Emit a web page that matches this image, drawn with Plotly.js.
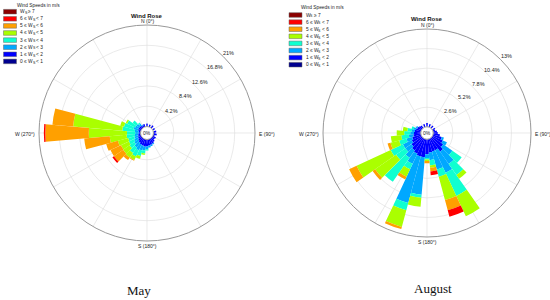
<!DOCTYPE html>
<html><head><meta charset="utf-8">
<script src="https://cdn.plot.ly/plotly-3.0.1.min.js"></script>
<style>html,body{margin:0;padding:0;background:#fff}#chart{width:550px;height:300px}</style>
</head><body><div id="chart"></div>
<script>
// Wind direction bins (degrees, clockwise from North)
const directions = [0,10,20,30,40,50,60,70,80,90,100,110,120,130,140,150,160,170,180,190,200,210,220,230,240,250,260,270,280,290,300,310,320,330,340,350];

// Speed class labels, split as [before subscript, subscript, after subscript]
const speedLabelParts = [
  ['0 \u2264 W','S','< 1'],
  ['1 \u2264 W','S','< 2'],
  ['2 \u2264 W','S','< 3'],
  ['3 \u2264 W','S','< 4'],
  ['4 \u2264 W','S','< 5'],
  ['5 \u2264 W','S','< 6'],
  ['6 \u2264 W','S','< 7'],
  ['W','S','\u2265 7']
];

const radialTicksMay = [4.2, 8.4, 12.6, 16.8, 21];
const radialTicksAug = [2.6, 5.2, 7.8, 10.4, 13];
const compassAngles = [0, 90, 180, 270];
const compassLabels = ['N (0\u00b0)','E (90\u00b0)','S (180\u00b0)','W (270\u00b0)'];
const panelLabels = ['May','August'];

// May: frequency (%) per direction for each speed class
const may_0_1 = [0,0,0,0,0,0,0,0,0,0,0,0,0,0,0,0,0,0,0,0,0,0,0,0,0,0,0,0,0,0,0,0,0,0,0,0];
const may_1_2 = [0.6,0,0.5,0,0.6,0,0.5,0,0.6,0.4,0.7,0.3,0.7,0.6,0.9,1.1,1.2,1.3,1.4,1.5,1.4,1.3,1.1,0.9,0.7,0.6,0.5,0.4,0.4,0.6,0.6,0.6,0.5,0.4,0.6,0];
const may_2_3 = [0,0,0,0,0,0,0,0,0,0,0,0,0,0,0,0.2,0.3,0.4,0.6,0.8,1.0,1.3,1.2,1.0,0.9,0.8,0.7,0.7,0.8,1.0,0.8,0.7,0.5,0.2,0,0];
const may_3_4 = [0,0,0,0,0,0,0,0,0,0,0,0,0,0,0,0,0,0,0.3,0.6,1.2,1.4,1.4,1.2,1.2,1.3,1.7,1.7,2.6,2.0,1.8,1.0,0.3,0,0,0];
const may_4_5 = [0,0,0,0,0,0,0,0,0,0,0,0,0,0,0,0,0,0,0,0.3,0.6,0.8,1.2,1.6,1.8,2.2,3.5,7.9,10.2,0.8,0.3,0,0,0,0,0];
const may_5_6 = [0,0,0,0,0,0,0,0,0,0,0,0,0,0,0,0,0,0,0,0,0,0.2,0.6,2.3,2.4,2.5,5.3,9.0,4.3,0,0,0,0,0,0,0];
const may_6_7 = [0,0,0,0,0,0,0,0,0,0,0,0,0,0,0,0,0,0,0,0,0,0,0,0.4,0,0,0,0.3,0,0,0,0,0,0,0,0];
const may_ge7 = [0,0,0,0,0,0,0,0,0,0,0,0,0,0,0,0,0,0,0,0,0,0,0,0,0,0,0,0,0,0,0,0,0,0,0,0];

// August
const aug_0_1 = [0,0,0,0,0,0,0,0,0,0,0,0,0,0,0,0,0,0,0,0,0,0,0,0,0,0,0,0,0,0,0,0,0,0,0,0];
const aug_1_2 = [0.5,0,0.4,0,0.4,0,0.4,0.3,0.5,0.6,0.9,1.2,1.5,1.8,2.2,1.7,1.7,1.8,2.0,2.4,2.4,2.2,2.0,1.7,1.4,1.2,1.0,0.9,0.8,0.7,0.6,0.5,0.4,0,0.4,0];
const aug_2_3 = [0,0,0,0,0,0,0,0,0,0,0,0.3,0.6,1.5,2.0,3.3,2.5,1.0,0.5,5.0,6.4,1.5,1.2,1.0,1.3,0.8,0.6,0.5,0.4,0.3,0.2,0,0,0,0,0];
const aug_3_4 = [0,0,0,0,0,0,0,0,0,0,0,0,0,1.5,1.8,3.4,1.0,0.7,0.2,0.4,1.0,0.8,3.9,1.5,1.8,1.0,1.0,0.8,0.6,0.3,0,0,0,0,0,0];
const aug_4_5 = [0,0,0,0,0,0,0,0,0,0,0,0,0,0,0.6,3.0,3.2,0.3,0.2,1.2,2.3,1.1,0,3.4,5.0,1.2,1.4,1.0,0.6,0,0,0,0,0,0,0];
const aug_5_6 = [0,0,0,0,0,0,0,0,0,0,0,0,0,0,0,0,1.4,0.5,0.3,0,0.3,0.4,0,0.4,1.1,0.4,0,0,0,0,0,0,0,0,0,0];
const aug_6_7 = [0,0,0,0,0,0,0,0,0,0,0,0,0,0,0,0,0.9,0.5,0,0,0,0,0,0,0,0,0,0,0,0,0,0,0,0,0,0];
const aug_ge7 = [0,0,0,0,0,0,0,0,0,0,0,0,0,0,0,0,0,0,0,0,0,0,0,0,0,0,0,0,0,0,0,0,0,0,0,0];

const speedColors = ['#00008F','#0000FF','#00A8FF','#10FFD0','#AAFF00','#FFA000','#FF0000','#8B0000'];

const maySeries = [may_0_1,may_1_2,may_2_3,may_3_4,may_4_5,may_5_6,may_6_7,may_ge7];
const augSeries = [aug_0_1,aug_1_2,aug_2_3,aug_3_4,aug_4_5,aug_5_6,aug_6_7,aug_ge7];

const W = 550, H = 300;
const px = x => x / W;
const py = y => 1 - y / H;
const FONT = 'Liberation Sans, Arial, sans-serif';

// text width measurement for composing subscripts
const ctx = document.createElement('canvas').getContext('2d');
function textWidth(s, size) { ctx.font = size + 'px "Liberation Sans", Arial, sans-serif'; return ctx.measureText(s).width; }

const traces = [];
function addRose(series, subplot) {
  series.forEach((vals, i) => {
    traces.push({
      type: 'barpolar', r: vals, theta: directions, subplot: subplot,
      marker: {color: speedColors[i], line: {width: 0}},
      hoverinfo: 'skip', showlegend: false
    });
  });
}
addRose(maySeries, 'polar');
addRose(augSeries, 'polar2');

// panel geometry (pixels)
const panels = [
  {cx: 147, cy: 133, R: 108, ticks: radialTicksMay, key: 'polar', title: {x:147, y:16}, legend: {bx: 3.5, ty: 5, tx: 38, y0: 11.7}, label: {x:139, y:290}},
  {cx: 427, cy: 133, R: 104, ticks: radialTicksAug, key: 'polar2', title: {x:427, y:19}, legend: {bx: 289, ty: 8, tx: 322, y0: 15}, label: {x:433, y:288}}
];
const HOLE = 0.06;

const layout = {
  width: W, height: H, margin: {l:0, r:0, t:0, b:0},
  paper_bgcolor: '#fff', plot_bgcolor: '#fff', showlegend: false,
  font: {family: FONT, size: 5, color: '#222'},
  annotations: [], shapes: []
};

function ann(x, y, text, font, xa, ya) {
  layout.annotations.push({xref:'paper', yref:'paper', x: px(x), y: py(y), text: text, showarrow:false,
    font: Object.assign({family: FONT}, font), xanchor: xa || 'center', yanchor: ya || 'middle'});
}

panels.forEach((p, k) => {
  const tmax = p.ticks[p.ticks.length - 1];
  layout[p.key] = {
    domain: {x: [px(p.cx - p.R), px(p.cx + p.R)], y: [py(p.cy + p.R), py(p.cy - p.R)]},
    hole: HOLE, bgcolor: '#fff', barmode: 'stack', bargap: 0,
    angularaxis: {
      rotation: 90, direction: 'clockwise', dtick: 30, showticklabels: false,
      showline: true, linecolor: '#999', linewidth: 1,
      gridcolor: '#dcdcdc', gridwidth: 0.6, ticks: ''
    },
    radialaxis: {
      range: [0, tmax], tickmode: 'array', tickvals: p.ticks, showticklabels: false,
      angle: 45, showline: false, ticks: '', gridcolor: '#dcdcdc', gridwidth: 0.6
    }
  };
  const small = {size: 5, color: '#222'};
  // compass labels
  compassAngles.forEach((a, i) => {
    if (a === 0) ann(p.cx, p.cy - p.R - 4, compassLabels[i], small);
    else if (a === 90) ann(p.cx + p.R + 2, p.cy + 1, compassLabels[i], small, 'left');
    else if (a === 180) ann(p.cx, p.cy + p.R + 5, compassLabels[i], small);
    else ann(p.cx - p.R - 2, p.cy + 1, compassLabels[i], small, 'right');
  });
  // radial ring labels along the 45 degree line
  const r0 = HOLE * p.R;
  p.ticks.forEach(t => {
    const d = r0 + (p.R - r0) * t / tmax + 5;
    ann(p.cx + d * Math.SQRT1_2 + 2, p.cy - d * Math.SQRT1_2, t + '%', {size: 5.5, color: '#222'});
  });
  // titles
  ann(p.title.x, p.title.y, '<b>Wind Rose</b>', {size: 6, color: '#111'});
  ann(p.cx, p.cy, '0%', {size: 5, color: '#222'});
  ann(p.label.x, p.label.y, panelLabels[k], {size: 13, color: '#111', family: 'Liberation Serif, DejaVu Serif, serif'});
  // legend (manual, compact)
  const L = p.legend;
  const fs = 4.8, fsSub = 3.6;
  ann(L.tx, L.ty, 'Wind Speeds in m/s', {size: fs, color: '#222'});
  for (let j = 0; j < speedLabelParts.length; j++) {
    const idx = speedLabelParts.length - 1 - j;
    const yc = L.y0 + j * 7.1;
    layout.shapes.push({type:'rect', xref:'paper', yref:'paper', x0: px(L.bx), x1: px(L.bx + 13), y0: py(yc + 2.3), y1: py(yc - 2.3), fillcolor: speedColors[idx], line:{color:'#666', width:0.5}});
    const parts = speedLabelParts[idx];
    let x = L.bx + 14.6;
    ann(x, yc, parts[0], {size: fs, color: '#222'}, 'left');
    x += textWidth(parts[0], fs);
    ann(x, yc + 1.3, parts[1], {size: fsSub, color: '#222'}, 'left');
    x += textWidth(parts[1], fsSub) + textWidth(' ', fs);
    ann(x, yc, parts[2], {size: fs, color: '#222'}, 'left');
  }
});

Plotly.newPlot('chart', traces, layout, {staticPlot: true, displayModeBar: false});
</script>
</body></html>
